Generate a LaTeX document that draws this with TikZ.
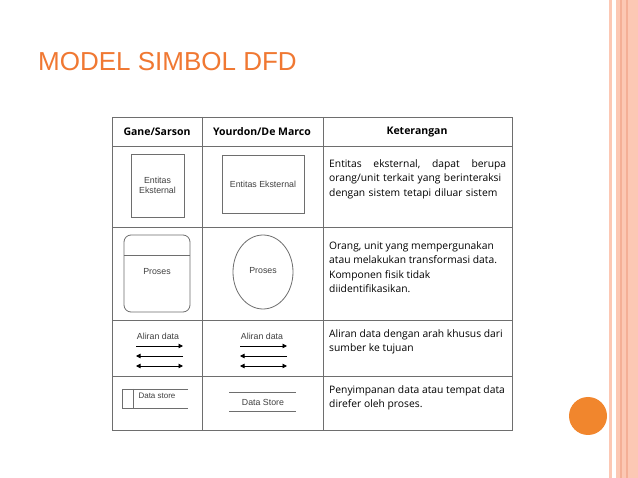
\documentclass[tikz,border=0pt]{standalone}
\usepackage{fontspec}
\setmainfont{Liberation Sans}
\newfontfamily\desc{Open Sans}
\usetikzlibrary{arrows.meta}
\definecolor{orng}{RGB}{240,120,50}
\definecolor{pk}{RGB}{252,200,180}
\definecolor{pkd}{RGB}{244,175,150}
\definecolor{grid}{RGB}{110,110,110}
\begin{document}
\begin{tikzpicture}[x=1pt,y=-1pt,
  sym/.style={draw=grid,line width=0.8pt},
  lbl/.style={font=\fontsize{8.8}{10}\selectfont,text=black!75,inner sep=0pt},
  hdr/.style={font=\desc\bfseries\fontsize{10.5}{12}\selectfont},
  dsc/.style={font=\desc\fontsize{10.3}{14.5}\selectfont,align=left,anchor=north west,inner sep=0pt},
  arr/.style={line width=0.9pt,-{Triangle[length=4.5pt,width=4.5pt]}},
  darr/.style={line width=0.9pt,{Triangle[length=4.5pt,width=4.5pt]}-{Triangle[length=4.5pt,width=4.5pt]}}]
\useasboundingbox (0,0) rectangle (638,478);
\fill[white] (0,0) rectangle (638,478);
% right stripes
\fill[pk] (609,0) rectangle (612,478);
\fill[pk] (616,0) rectangle (638,478);
\fill[pkd] (620,0) rectangle (622,478);
\fill[pkd] (626,0) rectangle (627.5,478);
\fill[orng!90!yellow] (588,416) circle (19);
\node[anchor=west,text=orng,font=\fontsize{26}{27}\selectfont,inner sep=0] (title) at (38,62) {MODEL SIMBOL DFD};
% table
\draw[grid,line width=0.9pt] (112,117) rectangle (512,430);
\foreach \x in {202,323} \draw[grid,line width=0.9pt] (\x,117) -- (\x,430);
\foreach \y in {146,227,320,376} \draw[grid,line width=0.9pt] (112,\y) -- (512,\y);
\node[hdr] (h1) at (157,132) {Gane/Sarson};
\node[hdr] (h2) at (262,132) {Yourdon/De Marco};
\node[hdr] (h3) at (417,132) {Keterangan};
% row1
\draw[sym] (131,154) rectangle (184,217);
\node[lbl,align=center] (e1) at (157.5,185) {Entitas\\Eksternal};
\draw[sym] (222,155) rectangle (304,213);
\node[lbl] (e2) at (263,184) {Entitas Eksternal};
\node[dsc,text width=177pt] (d1) at (329,159) {Entitas\hfill eksternal,\hfill dapat\hfill berupa\\orang/unit terkait yang berinteraksi\\dengan sistem tetapi diluar sistem};
% row2
\draw[sym,rounded corners=7pt] (124,235) rectangle (190,312);
\draw[sym] (124,255) -- (190,255);
\node[lbl] (p1) at (157,272) {Proses};
\draw[sym] (263,272) ellipse (30 and 37);
\node[lbl] (p2) at (263,271) {Proses};
\node[dsc] (d2) at (329,241) {Orang, unit yang mempergunakan\\atau melakukan transformasi data.\\Komponen fisik tidak\\diidentifikasikan.};
% row3
\node[lbl] (a1) at (158,336) {Aliran data};
\coordinate (a1l) at (136,346); \coordinate (a1r) at (183,346);
\coordinate (b1l) at (136,356); \coordinate (b1r) at (183,356);
\coordinate (c1l) at (136,366); \coordinate (c1r) at (183,366);
\draw[arr] (a1l) -- (a1r);
\draw[arr] (b1r) -- (b1l);
\draw[darr] (c1l) -- (c1r);
\node[lbl] (a2) at (262,336) {Aliran data};
\coordinate (a2l) at (240,346); \coordinate (a2r) at (287,346);
\coordinate (b2l) at (240,356); \coordinate (b2r) at (287,356);
\coordinate (c2l) at (240,366); \coordinate (c2r) at (287,366);
\draw[arr] (a2l) -- (a2r);
\draw[arr] (b2r) -- (b2l);
\draw[darr] (c2l) -- (c2r);
\node[dsc] (d3) at (329,329) {Aliran data dengan arah khusus dari\\sumber ke tujuan};
\draw[sym] (188,389) -- (122,389) -- (122,408) -- (188,408);
\draw[sym] (133,389) -- (133,408);
\node[lbl,font=\fontsize{8}{9}\selectfont] (s1) at (157,396) {Data store};
\draw[sym] (229,392) -- (296,392);
\draw[sym] (229,411) -- (296,411);
\node[lbl] (s2) at (263,402) {Data Store};
\node[dsc] (d4) at (329,385) {Penyimpanan data atau tempat data\\direfer oleh proses.};
\end{tikzpicture}
\end{document}
